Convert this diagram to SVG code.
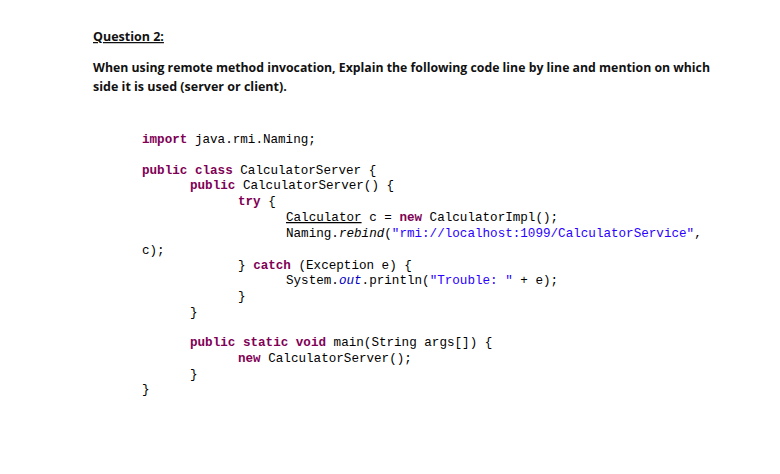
<svg xmlns="http://www.w3.org/2000/svg" width="780" height="474" viewBox="0 0 780 474">
<style>
.h{font-family:"Open Sans","Liberation Sans",sans-serif;font-weight:bold;font-size:12.5px;fill:#111}
.c{font-family:"Liberation Mono","DejaVu Sans Mono",monospace;font-size:12.6px;fill:#000;white-space:pre}
.k{fill:#7f0055;font-weight:bold}
.s{fill:#2a00ff}
.f{fill:#0000c0;font-style:italic}
</style>
<rect width="780" height="474" fill="#fff"/>
<text class="h" x="93" y="41" text-decoration="underline">Question 2:</text>
<text class="h" x="93" y="72" textLength="617" lengthAdjust="spacingAndGlyphs">When using remote method invocation, Explain the following code line by line and mention on which</text>
<text class="h" x="93" y="91">side it is used (server or client).</text>
<g class="c">
<text x="142" y="143"><tspan class="k">import</tspan> java.rmi.Naming;</text>
<text x="142" y="174"><tspan class="k">public class</tspan> CalculatorServer {</text>
<text x="190" y="189"><tspan class="k">public</tspan> CalculatorServer() {</text>
<text x="238" y="205"><tspan class="k">try</tspan> {</text>
<text x="286" y="221"><tspan text-decoration="underline">Calculator</tspan> c = <tspan class="k">new</tspan> CalculatorImpl();</text>
<text x="286" y="237">Naming.<tspan font-style="italic">rebind</tspan>(<tspan class="s">"rmi://localhost:1099/CalculatorService"</tspan>,</text>
<text x="142" y="254">c);</text>
<text x="238" y="269">} <tspan class="k">catch</tspan> (Exception e) {</text>
<text x="286" y="284">System.<tspan class="f">out</tspan>.println(<tspan class="s">"Trouble: "</tspan> + e);</text>
<text x="238" y="300">}</text>
<text x="190" y="316">}</text>
<text x="190" y="346"><tspan class="k">public static void</tspan> main(String args[]) {</text>
<text x="238" y="362"><tspan class="k">new</tspan> CalculatorServer();</text>
<text x="190" y="378">}</text>
<text x="142" y="393">}</text>
</g>
</svg>
